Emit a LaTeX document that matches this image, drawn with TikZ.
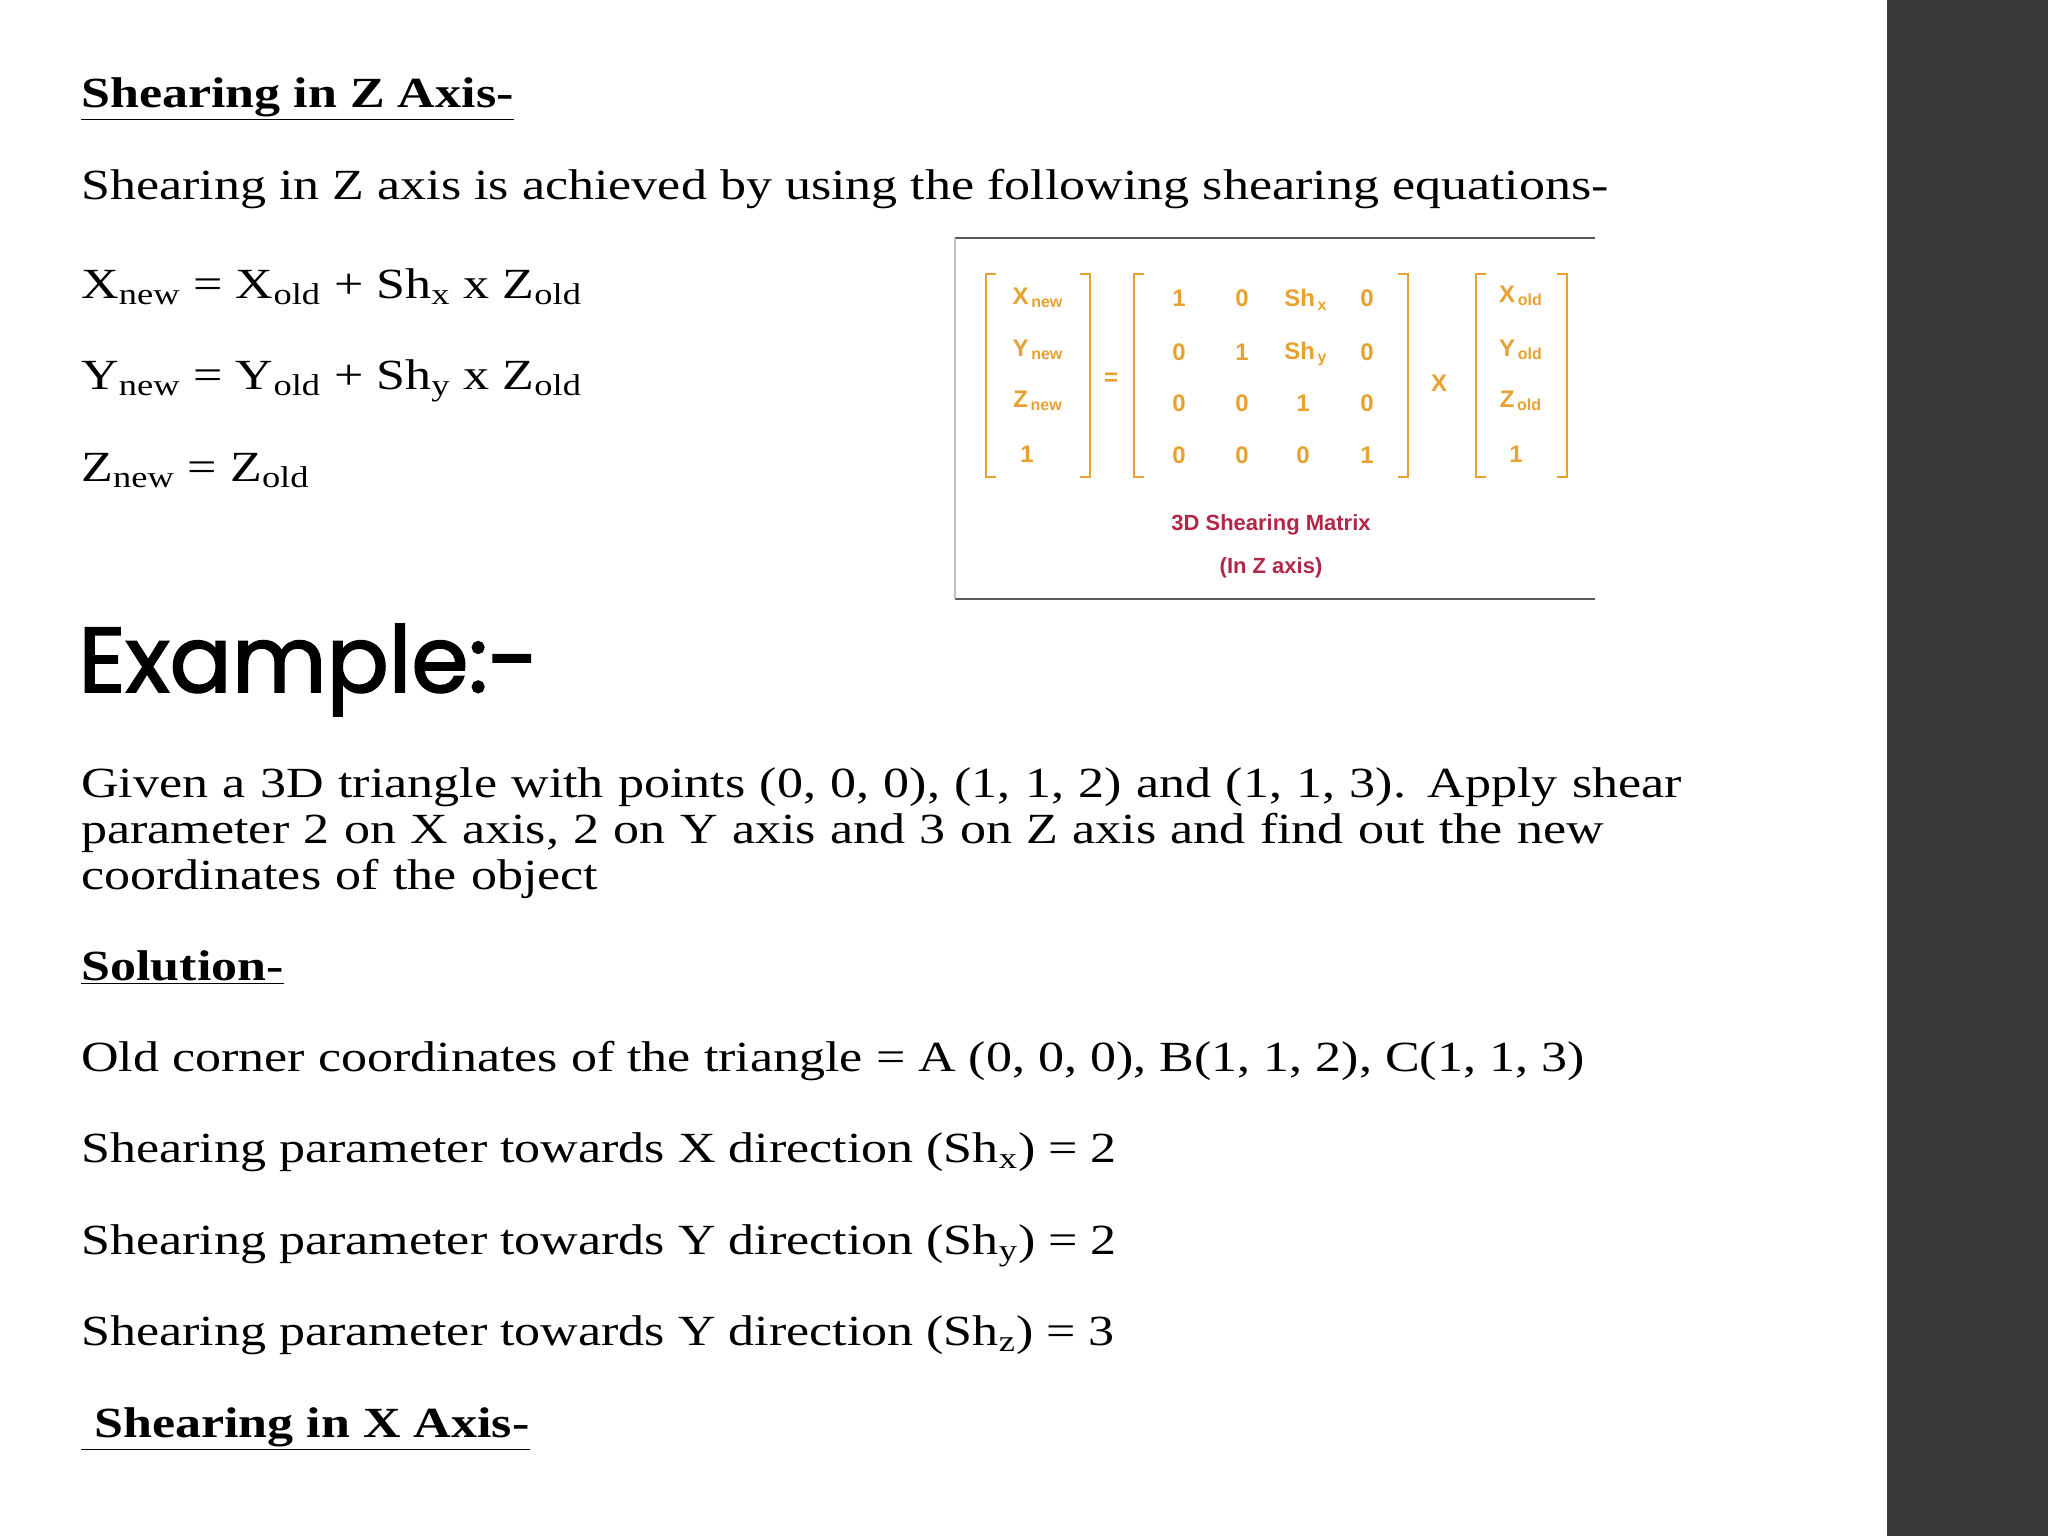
\documentclass[tikz,border=0pt]{standalone}
\usepackage{fontspec}
\setmainfont{Liberation Serif}[FakeStretch=1.21]
\setsansfont{Liberation Sans}
\newfontfamily\exfont{Poppins}[FakeBold=2]
\definecolor{org}{HTML}{E8A030}
\definecolor{cap}{HTML}{B02848}
\definecolor{bar}{HTML}{3A3A3A}
\begin{document}
\begin{tikzpicture}[x=0.5pt,y=-0.5pt,
  txt/.style={anchor=base west,inner sep=0,font=\fontsize{21.5}{27}\selectfont},
  ul/.style={txt,font=\fontsize{21.5}{27}\selectfont\bfseries},
  mx/.style={inner sep=0,text=org,font=\sffamily\bfseries\fontsize{12}{14}\selectfont},
  brk/.style={draw=org,line width=1.4pt}]
\useasboundingbox (0,0) rectangle (2048,1536);
\fill[bar] (1887,0) rectangle (2048,1536);
\node[ul] (t1) at (81,107) {\underline{Shearing in Z Axis-}};
\node[txt] (l2) at (81,199) {Shearing in Z axis is achieved by using the following shearing equations-};
\node[txt] (e1) at (81,298) {X\textsubscript{new} = X\textsubscript{old} + Sh\textsubscript{x} x Z\textsubscript{old}};
\node[txt] (e2) at (81,389) {Y\textsubscript{new} = Y\textsubscript{old} + Sh\textsubscript{y} x Z\textsubscript{old}};
\node[txt] (e3) at (81,481) {Z\textsubscript{new} = Z\textsubscript{old}};
% box
\draw[gray!70!black,line width=1.3pt] (955,238) -- (1595,238);
\draw[gray!70!black,line width=1.3pt] (955,599) -- (1595,599);
\draw[gray!50,line width=0.6pt] (955,238) -- (955,599);
% brackets
\foreach \a/\b in {986/1090,1134/1408,1476/1567}{
  \draw[brk] (\a+10,274) -- (\a,274) -- (\a,477) -- (\a+10,477);
  \draw[brk] (\b-10,274) -- (\b,274) -- (\b,477) -- (\b-10,477);
}
\node[mx] (v1) at (1038,298) {X\textsubscript{\,new}};
\node[mx] (v2) at (1038,350) {Y\textsubscript{\,new}};
\node[mx] (v3) at (1038,401) {Z\textsubscript{\,new}};
\node[mx] (v4) at (1027,454) {1};
\node[mx] (eq) at (1111,379) {=};
\node[mx] at (1179,298) {1}; \node[mx] at (1242,298) {0}; \node[mx] at (1306,300) {Sh\textsubscript{\,x}}; \node[mx] at (1367,298) {0};
\node[mx] at (1179,352) {0}; \node[mx] at (1242,352) {1}; \node[mx] at (1306,354) {Sh\textsubscript{\,y}}; \node[mx] at (1367,352) {0};
\node[mx] at (1179,403) {0}; \node[mx] at (1242,403) {0}; \node[mx] at (1303,403) {1}; \node[mx] at (1367,403) {0};
\node[mx] at (1179,455) {0}; \node[mx] at (1242,455) {0}; \node[mx] at (1303,455) {0}; \node[mx] at (1367,455) {1};
\node[mx] (times) at (1439,383) {X};
\node[mx] (o1) at (1521,296) {X\textsubscript{\,old}};
\node[mx] (o2) at (1521,350) {Y\textsubscript{\,old}};
\node[mx] (o3) at (1521,401) {Z\textsubscript{\,old}};
\node[mx] (o4) at (1516,454) {1};
\node[mx,text=cap,font=\sffamily\bfseries\fontsize{11}{13}\selectfont] (c1) at (1271,525) {3D Shearing Matrix};
\node[mx,text=cap,font=\sffamily\bfseries\fontsize{11}{13}\selectfont] (c2) at (1271,568) {(In Z axis)};
% example
\node[anchor=base west,inner sep=0,font=\exfont\fontsize{46}{54}\selectfont] (ex) at (78,692) {Example:-};
\node[txt,align=left,text width=1750] (p) at (81,797) {Given a 3D triangle with points (0, 0, 0), (1, 1, 2) and (1, 1, 3). Apply shear\\[-4pt] parameter 2 on X axis, 2 on Y axis and 3 on Z axis and find out the new\\[-4pt] coordinates of the object};
\node[ul] (sol) at (81,980) {\underline{Solution-}};
\node[txt] (s1) at (81,1071) {Old corner coordinates of the triangle = A (0, 0, 0), B(1, 1, 2), C(1, 1, 3)};
\node[txt] (s2) at (81,1162) {Shearing parameter towards X direction (Sh\textsubscript{x}) = 2};
\node[txt] (s3) at (81,1254) {Shearing parameter towards Y direction (Sh\textsubscript{y}) = 2};
\node[txt] (s4) at (81,1345) {Shearing parameter towards Y direction (Sh\textsubscript{z}) = 3};
\node[ul] (t2) at (81,1437) {\underline{~Shearing in X Axis-}};
\end{tikzpicture}
\end{document}
